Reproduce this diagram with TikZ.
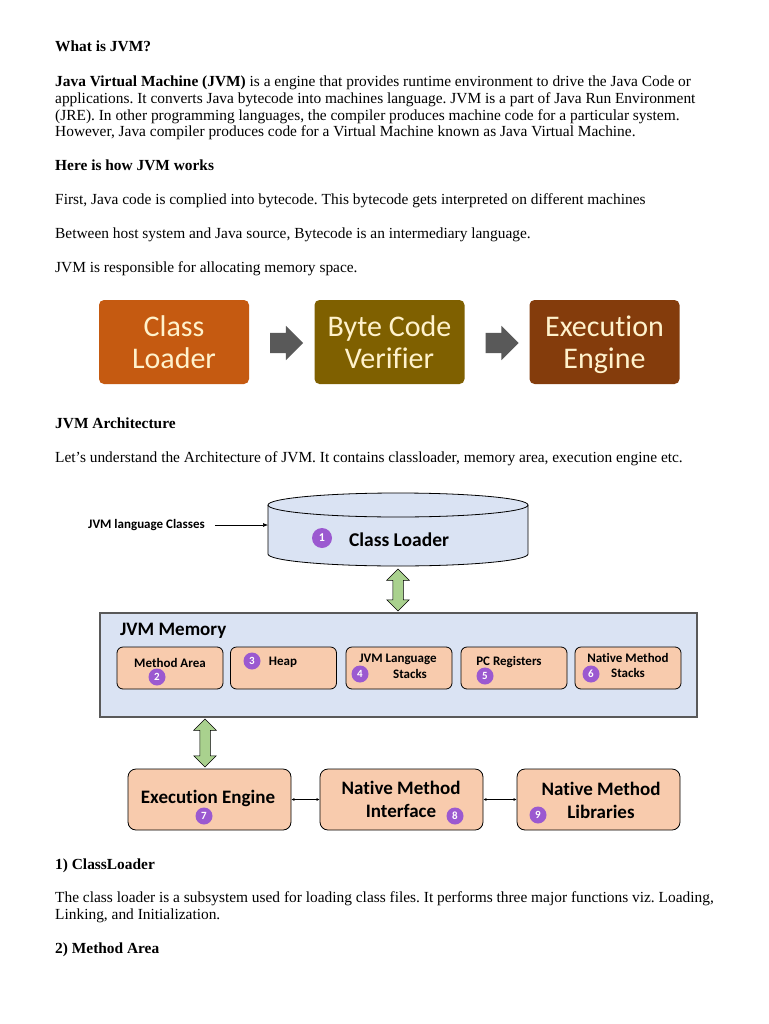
\documentclass[tikz,border=0pt]{standalone}
\usepackage{fontspec}
\setmainfont{Liberation Serif}
\newfontfamily\calfont[Ligatures=NoCommon]{Carlito}
\usetikzlibrary{arrows.meta,shapes.arrows}
\definecolor{orng}{HTML}{C55A11}
\definecolor{olv}{HTML}{7F6000}
\definecolor{brwn}{HTML}{843C0C}
\definecolor{cream}{HTML}{FFF2CC}
\definecolor{lblue}{HTML}{DAE3F3}
\definecolor{peach}{HTML}{F8CBAD}
\definecolor{purp}{HTML}{9B59D0}
\definecolor{lgreen}{HTML}{A9D18E}
\definecolor{dgray}{HTML}{595959}
\tikzset{
  txt/.style={anchor=base west, inner sep=0pt, font=\fontsize{15.4}{16.5}\selectfont},
  hd/.style={txt, font=\fontsize{15.4}{16.5}\selectfont\bfseries},
  flowbox/.style={rounded corners=5pt, minimum width=150pt, minimum height=84pt, text=cream, align=center, text depth=0pt, font=\calfont\fontsize{30}{32}\selectfont},
  grayarrow/.style={single arrow, fill=dgray, minimum height=33pt, minimum width=34pt, single arrow head extend=7pt, inner xsep=0pt, inner ysep=10pt},
  membox/.style={draw=black, line width=0.8pt, rounded corners=6pt, fill=peach, minimum width=106pt, minimum height=42pt},
  bigbox/.style={draw=black, line width=0.8pt, rounded corners=8pt, fill=peach, minimum width=163pt, minimum height=61pt},
  badge/.style={circle, fill=purp, text=white, inner sep=0pt, minimum size=17pt, font=\calfont\bfseries\fontsize{11}{11}\selectfont},
  small/.style={font=\calfont\bfseries\fontsize{13}{15}\selectfont, align=center, inner sep=0pt},
  big/.style={font=\calfont\bfseries\fontsize{19}{23}\selectfont, align=center, inner sep=0pt},
  dblgreen/.style={double arrow, fill=lgreen, draw=black, line width=0.5pt, minimum width=22pt, double arrow head extend=6pt, inner xsep=0pt, inner ysep=5pt, rotate=90},
  thin/.style={{Latex[length=3pt,width=3pt]}-{Latex[length=3pt,width=3pt]}, line width=0.6pt}
}
\begin{document}
\frenchspacing
\begin{tikzpicture}[x=1pt,y=-1pt]
\useasboundingbox[fill=white] (0,0) rectangle (768,1024);
% top text
\node[hd] (t1) at (55,52) {What is JVM?};
\node[txt] (p1) at (55,87) {\textbf{Java Virtual Machine (JVM)} is a engine that provides runtime environment to drive the Java Code or};
\node[txt] (p2) at (55,104) {applications. It converts Java bytecode into machines language. JVM is a part of Java Run Environment};
\node[txt] (p3) at (55,121) {(JRE). In other programming languages, the compiler produces machine code for a particular system.};
\node[txt] (p4) at (55,137) {However, Java compiler produces code for a Virtual Machine known as Java Virtual Machine.};
\node[hd] (t2) at (55,171) {Here is how JVM works};
\node[txt] (p5) at (55,205) {First, Java code is complied into bytecode. This bytecode gets interpreted on different machines};
\node[txt] (p6) at (55,239) {Between host system and Java source, Bytecode is an intermediary language.};
\node[txt] (p7) at (55,272) {JVM is responsible for allocating memory space.};
% flow
\node[flowbox, fill=orng] (cl) at (174,342) {Class\\Loader};
\node[flowbox, fill=olv] (bv) at (389.5,342) {Byte Code\\Verifier};
\node[flowbox, fill=brwn] (ee) at (604.5,342) {Execution\\Engine};
\node[grayarrow] (a1) at (281.5,343) {};
\node[grayarrow] (a2) at (497,343) {};
% middle text
\node[hd] (t3) at (55,428) {JVM Architecture};
\node[txt] (p8) at (55,462) {Let's understand the Architecture of JVM. It contains classloader, memory area, execution engine etc.};
% cylinder
\path[fill=lblue, draw=black, line width=0.8pt] (268,505) -- (268,554) arc[start angle=180, end angle=0, x radius=130, y radius=12] -- (528,505) arc[start angle=0, end angle=-180, x radius=130, y radius=12] -- cycle;
\draw[line width=0.8pt] (268,505) arc[start angle=180, end angle=0, x radius=130, y radius=12];
\coordinate (cyl) at (268,525);
\node[badge, minimum size=20pt, font=\calfont\bfseries\fontsize{12}{12}\selectfont] (b1) at (322,538) {1};
\node[font=\calfont\bfseries\fontsize{19.5}{19.5}\selectfont, inner sep=0pt] (clt) at (399,540) {Class Loader};
\node[font=\calfont\bfseries\fontsize{13}{13}\selectfont, inner sep=0pt, anchor=west] (jlc) at (88,525) {JVM language Classes};
\draw[-{Latex[length=5pt,width=4pt]}, line width=0.6pt] (jlc.east) ++(10,0) -- (cyl);
% memory
\node[draw=dgray, line width=1.2pt, fill=lblue, minimum width=597pt, minimum height=104pt, inner sep=0pt] (mem) at (398.5,665) {};
\node[font=\calfont\bfseries\fontsize{19}{19}\selectfont, anchor=west, inner sep=0pt] (memt) at (120,631) {JVM Memory};
\node[membox] (ma) at (170,668) {};
\node[membox] (hp) at (283.5,668) {};
\node[membox] (js) at (399,668) {};
\node[membox] (pc) at (514,668) {};
\node[membox] (ns) at (628,668) {};
\node[small] at (170,663) {Method Area};
\node[badge] at (157,677) {2};
\node[small] at (283,662) {Heap};
\node[badge] at (252,661) {3};
\node[small] at (398,659) {JVM Language};
\node[small] at (410,674) {Stacks};
\node[badge] at (360,674) {4};
\node[small] at (509,662) {PC Registers};
\node[badge] at (485,676) {5};
\node[small] at (628,658) {Native Method};
\node[small] at (628,673) {Stacks};
\node[badge] at (591,674) {6};
% green arrows
\node[dblgreen, minimum height=42pt] (g1) at (398,590) {};
\node[dblgreen, minimum height=48pt] (g2) at (205,743) {};
% bottom
\node[bigbox] (ex) at (209.5,799.5) {};
\node[bigbox] (nmi) at (401.5,799.5) {};
\node[bigbox] (nml) at (598.5,799.5) {};
\node[big] at (208,798) {Execution Engine};
\node[badge] at (204,816) {7};
\node[big] at (401,788) {Native Method};
\node[big] at (401,811) {Interface};
\node[badge] at (455,816) {8};
\node[big] at (601,789) {Native Method};
\node[big] at (601,812) {Libraries};
\node[badge] at (538,815) {9};
\draw[thin] (ex.east) -- (nmi.west);
\draw[thin] (nmi.east) -- (nml.west);
% bottom text
\node[hd] (t4) at (55,869) {1) ClassLoader};
\node[txt] (p9) at (55,902) {The class loader is a subsystem used for loading class files. It performs three major functions viz. Loading,};
\node[txt] (p10) at (55,919) {Linking, and Initialization.};
\node[hd] (t5) at (55,953) {2) Method Area};
\end{tikzpicture}
\end{document}
